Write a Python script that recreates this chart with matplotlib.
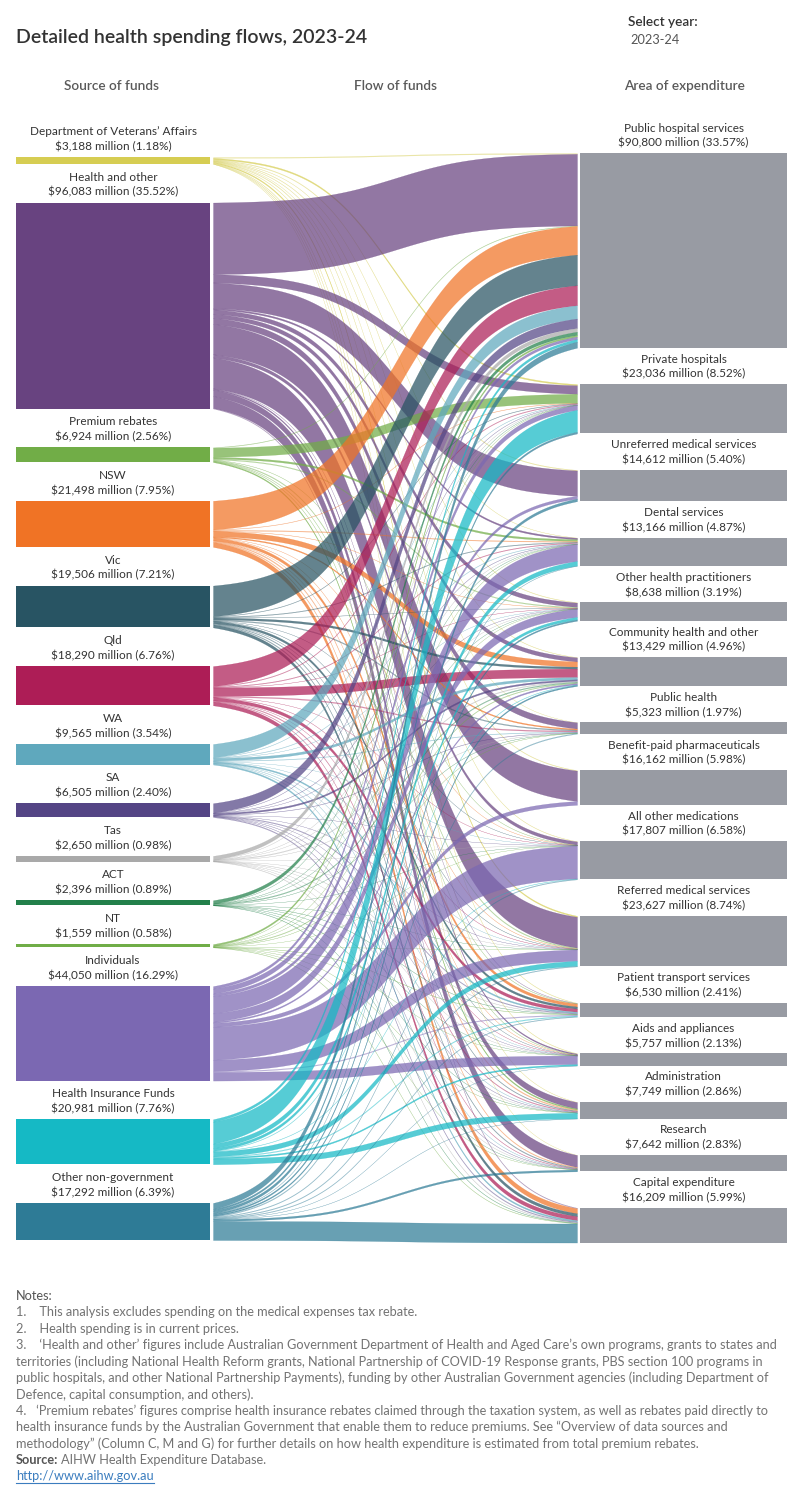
import numpy as np
import matplotlib
matplotlib.use("Agg")
import matplotlib.pyplot as plt
from matplotlib.patches import Rectangle

plt.rcParams['font.family'] = ['Lato', 'DejaVu Sans']

# -----------------------------
# Data ($ million, 2023-24)
# -----------------------------

sources = [
    "Department of Veterans\u2019 Affairs", "Health and other", "Premium rebates",
    "NSW", "Vic", "Qld", "WA", "SA", "Tas", "ACT", "NT",
    "Individuals", "Health Insurance Funds", "Other non-government",
]
source_totals = [3188, 96083, 6924, 21498, 19506, 18290, 9565, 6505,
                 2650, 2396, 1559, 44050, 20981, 17292]
source_pcts = [1.18, 35.52, 2.56, 7.95, 7.21, 6.76, 3.54, 2.40,
               0.98, 0.89, 0.58, 16.29, 7.76, 6.39]
source_colors = ["#d6cd52", "#684380", "#71ad47", "#f07325", "#285463",
                 "#ad1d56", "#5fa8bd", "#544585", "#a9a9a9", "#22804a",
                 "#70ad47", "#7b68b2", "#15b9c5", "#2e7b96"]

areas = [
    "Public hospital services", "Private hospitals", "Unreferred medical services",
    "Dental services", "Other health practitioners", "Community health and other",
    "Public health", "Benefit-paid pharmaceuticals", "All other medications",
    "Referred medical services", "Patient transport services", "Aids and appliances",
    "Administration", "Research", "Capital expenditure",
]
area_totals = [90800, 23036, 14612, 13166, 8638, 13429, 5323, 16162,
               17807, 23627, 6530, 5757, 7749, 7642, 16209]
area_pcts = [33.57, 8.52, 5.40, 4.87, 3.19, 4.96, 1.97, 5.98,
             6.58, 8.74, 2.41, 2.13, 2.86, 2.83, 5.99]

# flows from each source, in the order of `areas` (estimated)
dva_flows        = [400, 600, 300, 90, 200, 150, 20, 250, 150, 500, 200, 200, 98, 30, 0]
health_flows     = [33384, 3900, 11812, 700, 2000, 1900, 2900, 14150, 1500, 14390, 100, 500, 2973, 5574, 300]
premium_flows    = [224, 4200, 0, 800, 400, 0, 0, 0, 100, 400, 150, 150, 500, 0, 0]
nsw_flows        = [13400, 150, 0, 350, 100, 2400, 500, 0, 50, 100, 1300, 50, 448, 350, 2300]
vic_flows        = [14300, 200, 0, 300, 80, 900, 450, 0, 50, 100, 1000, 50, 300, 376, 1400]
qld_flows        = [9300, 300, 0, 300, 80, 3900, 450, 0, 50, 100, 1410, 50, 350, 200, 1800]
wa_flows         = [6200, 150, 0, 200, 50, 1100, 250, 0, 30, 50, 600, 30, 150, 120, 635]
sa_flows         = [4425, 100, 0, 120, 30, 700, 150, 0, 20, 30, 350, 20, 80, 80, 400]
tas_flows        = [1720, 50, 0, 40, 10, 350, 60, 0, 10, 10, 120, 10, 40, 30, 200]
act_flows        = [1536, 30, 0, 30, 10, 400, 60, 0, 10, 10, 80, 10, 50, 20, 150]
nt_flows         = [719, 20, 0, 40, 10, 300, 80, 0, 10, 10, 150, 10, 40, 20, 150]
individual_flows = [1200, 2300, 1300, 7950, 3868, 600, 0, 1762, 15370, 5300, 400, 4000, 0, 0, 0]
hif_flows        = [1174, 10236, 0, 2100, 1200, 200, 0, 0, 150, 2300, 390, 600, 2631, 0, 0]
other_flows      = [2818, 800, 1200, 146, 600, 529, 403, 0, 307, 327, 280, 77, 89, 842, 8874]

flow_rows = [dva_flows, health_flows, premium_flows, nsw_flows, vic_flows,
             qld_flows, wa_flows, sa_flows, tas_flows, act_flows, nt_flows,
             individual_flows, hif_flows, other_flows]

notes = [
    "1.    This analysis excludes spending on the medical expenses tax rebate.",
    "2.    Health spending is in current prices.",
    "3.    \u2018Health and other\u2019 figures include Australian Government Department of Health and Aged Care\u2019s own programs, grants to states and",
    "territories (including National Health Reform grants, National Partnership of COVID-19 Response grants, PBS section 100 programs in",
    "public hospitals, and other National Partnership Payments), funding by other Australian Government agencies (including Department of",
    "Defence, capital consumption, and others).",
    "4.   \u2018Premium rebates\u2019 figures comprise health insurance rebates claimed through the taxation system, as well as rebates paid directly to",
    "health insurance funds by the Australian Government that enable them to reduce premiums. See \u201cOverview of data sources and",
    "methodology\u201d (Column C, M and G) for further details on how health expenditure is estimated from total premium rebates.",
]

# -----------------------------
# Layout (pixels)
# -----------------------------

PX_PER_M = 206 / 96083
LEFT_X0, LEFT_X1 = 16, 210
RIGHT_X0, RIGHT_X1 = 580, 787
FLOW_X0, FLOW_X1 = 213, 577
LEFT_TOP, LEFT_GAP = 157, 38.7
RIGHT_TOP, RIGHT_GAP = 153, 36.4
RIGHT_COLOR = "#989ba3"
TEXT_COLOR = "#333333"
LABEL_SIZE = 8.5
NOTE_SIZE = 9.2


def node_positions(totals, top, gap):
    pos = []
    y = top
    for v in totals:
        h = v * PX_PER_M
        pos.append((y, y + h))
        y += h + gap
    return pos


def sigmoid_shape(n=160, k=9):
    t = np.linspace(0, 1, n)
    s = 1 / (1 + np.exp(-k * (t - 0.5)))
    s = (s - s[0]) / (s[-1] - s[0])
    return t, s


def draw_label(ax, x, top, name, total, pct):
    ax.text(x, top - 25.5, name, ha="center", va="center",
            fontsize=LABEL_SIZE, color=TEXT_COLOR)
    ax.text(x, top - 10.5, f"\\${total:,} million ({pct:.2f}%)",
            ha="center", va="center", fontsize=LABEL_SIZE, color=TEXT_COLOR)


# -----------------------------
# Plot
# -----------------------------

fig = plt.figure(figsize=(8, 15), dpi=100)
ax = fig.add_axes([0, 0, 1, 1])
ax.set_xlim(0, 800)
ax.set_ylim(1500, 0)
ax.axis("off")

left_pos = node_positions(source_totals, LEFT_TOP, LEFT_GAP)
right_pos = node_positions(area_totals, RIGHT_TOP, RIGHT_GAP)

# --- offsets of each flow at both ends ---
n_src, n_tgt = len(sources), len(areas)
left_off = np.zeros((n_src, n_tgt))
right_off = np.zeros((n_src, n_tgt))
for i in range(n_src):
    y = left_pos[i][0]
    for j in range(n_tgt):
        left_off[i, j] = y
        y += flow_rows[i][j] * PX_PER_M
for j in range(n_tgt):
    y = right_pos[j][0]
    for i in range(n_src):
        right_off[i, j] = y
        y += flow_rows[i][j] * PX_PER_M

# --- flows ---
t, s = sigmoid_shape()
xs = FLOW_X0 + t * (FLOW_X1 - FLOW_X0)
for i in range(n_src):
    for j in range(n_tgt):
        v = flow_rows[i][j]
        if v <= 0:
            continue
        h = v * PX_PER_M
        # hairline flows are drawn fainter, like the original
        alpha = 0.72 if h >= 1.0 else 0.45
        top = left_off[i, j] + (right_off[i, j] - left_off[i, j]) * s
        ax.fill_between(xs, top, top + h, facecolor=source_colors[i],
                        edgecolor=source_colors[i], linewidth=0.18,
                        alpha=alpha)

# --- nodes ---
for i, (y0, y1) in enumerate(left_pos):
    ax.add_patch(Rectangle((LEFT_X0, y0), LEFT_X1 - LEFT_X0, y1 - y0,
                           facecolor=source_colors[i], edgecolor="none"))
    draw_label(ax, (LEFT_X0 + LEFT_X1) / 2, y0, sources[i],
               source_totals[i], source_pcts[i])

for j, (y0, y1) in enumerate(right_pos):
    ax.add_patch(Rectangle((RIGHT_X0, y0), RIGHT_X1 - RIGHT_X0, y1 - y0,
                           facecolor=RIGHT_COLOR, edgecolor="none"))
    draw_label(ax, (RIGHT_X0 + RIGHT_X1) / 2, y0 + 0.5, areas[j],
               area_totals[j], area_pcts[j])

# --- titles ---
ax.text(16, 38, "Detailed health spending flows, 2023-24", ha="left", va="center",
        fontsize=14, fontweight="semibold", color=TEXT_COLOR)
ax.text(628, 22, "Select year:", ha="left", va="center", fontsize=9.8,
        fontweight="semibold", color=TEXT_COLOR)
ax.text(630, 40, "2023-24", ha="left", va="center", fontsize=9.2, color="#555555")

for x, label in [(111, "Source of funds"), (395, "Flow of funds"),
                 (684, "Area of expenditure")]:
    ax.text(x, 86, label, ha="center", va="center", fontsize=9.8,
            fontweight="semibold", color="#5a5a5a")

# --- notes ---
NOTE_COLOR = "#737373"
line_h = 16.4
y = 1296
ax.text(16, y, "Notes:", ha="left", va="center", fontsize=NOTE_SIZE, color="#555555")
for line in notes:
    y += line_h
    ax.text(16, y, line, ha="left", va="center", fontsize=NOTE_SIZE, color=NOTE_COLOR)

y += line_h
src = ax.text(16, y, "Source:", ha="left", va="center", fontsize=NOTE_SIZE,
              fontweight="bold", color="#555555")
fig.canvas.draw()
bb = src.get_window_extent().transformed(ax.transData.inverted())
ax.text(bb.x1 + 3, y, "AIHW Health Expenditure Database.", ha="left", va="center",
        fontsize=NOTE_SIZE, color=NOTE_COLOR)

y += line_h
url = ax.text(16, y, "http://www.aihw.gov.au", ha="left", va="center",
              fontsize=NOTE_SIZE, color="#3b7dbf")
fig.canvas.draw()
bb = url.get_window_extent().transformed(ax.transData.inverted())
ax.plot([bb.x0, bb.x1], [y + 6.5, y + 6.5], color="#3b7dbf", linewidth=0.8)

fig.savefig("out.png", dpi=100)
